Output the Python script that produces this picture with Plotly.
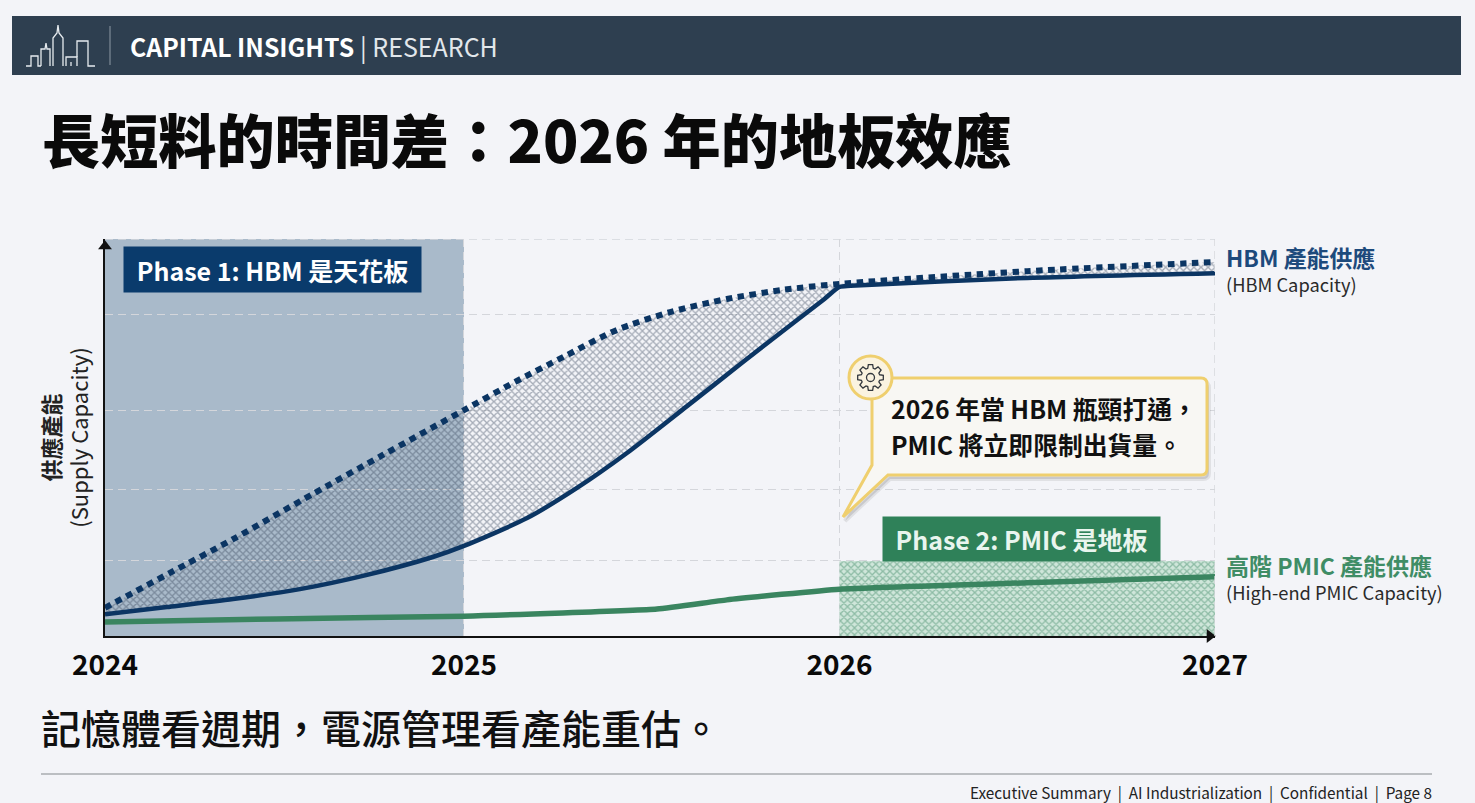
import math
import plotly.graph_objects as go

W, H = 1475, 803
CJK = "Noto Sans CJK TC"

# Plot frame on the slide, in pixels
LEFT, RIGHT, TOP, BOTTOM = 105, 1215, 239, 636

# Time axis: 2024 sits slightly closer to 2025 than the later years do
X_START = 2024.044
X_END = 2027
TICK_POS = [X_START, 2025, 2026, 2027]
TICK_LABELS = ["2024", "2025", "2026", "2027"]
GRID_Y = [18.9, 37, 56.9, 80.9, 100]

# Supply curves, index scale 0-100
HBM_X = [2024.044, 2024.209, 2024.385, 2024.563, 2024.742, 2024.917, 2025, 2025.168,
         2025.301, 2025.434, 2025.594, 2025.743, 2025.876, 2025.96, 2026, 2026.03, 2026.5, 2027]
HBM_ACTUAL = [5.5, 7.3, 9.3, 11.8, 15.4, 19.9, 22.7, 29.7,
              37.3, 46.1, 57.9, 69.0, 78.8, 84.9, 87.9, 88.2, 90.2, 91.4]
CEILING_X = [2024.044, 2024.217, 2024.385, 2024.598, 2024.784, 2025, 2025.136, 2025.269,
             2025.407, 2025.549, 2025.7, 2025.85, 2026, 2026.5, 2027]
HBM_CEILING = [7.1, 15.9, 24.4, 35.8, 45.6, 56.9, 64.0, 70.5,
               77.1, 81.6, 84.9, 87.2, 88.7, 91.9, 94.2]
PMIC_X = [2024.044, 2024.5, 2025, 2025.514, 2025.7, 2026, 2026.5, 2027]
PMIC_CAPACITY = [3.5, 4.3, 5.0, 6.8, 9.1, 11.8, 13.4, 14.9]

PHASE1_SPAN = [X_START, 2025]
PHASE2_SPAN = [2026, 2027]
PHASE2_TOP = 18.9

NAVY = "#0B3563"
GREEN = "#3A8560"
BG = "#F3F4F8"
GOLD = "#EFCF6E"
GRID = "#D4D6DB"
GRID_DASH = "8px,5px"


def fx(x):
    return x / W


def fy(y):
    return 1 - y / H


def pts_path(points, close=False):
    d = "M" + " L".join(f"{fx(x):.5f},{fy(y):.5f}" for x, y in points)
    return d + (" Z" if close else "")


def callout_path(dx=0, dy=0):
    # Speech bubble with rounded corners and a tail pointing down-left
    l, r, t, b, c = 872 + dx, 1207 + dx, 378 + dy, 475 + dy, 6
    seq = [
        ("M", l + c, t), ("L", r - c, t), ("Q", r, t, r, t + c), ("L", r, b - c),
        ("Q", r, b, r - c, b), ("L", 888 + dx, b), ("L", 843 + dx, 517 + dy),
        ("L", l, 465 + dy), ("L", l, t + c), ("Q", l, t, l + c, t),
    ]
    parts = []
    for s in seq:
        coords = s[1:]
        xy = [f"{fx(coords[i]):.5f},{fy(coords[i + 1]):.5f}" for i in range(0, len(coords), 2)]
        parts.append(s[0] + " ".join(xy))
    return " ".join(parts) + " Z"


def gear_path(cx, cy, r_out, r_in, teeth=8):
    points = []
    step = 2 * math.pi / teeth
    for k in range(teeth):
        a = k * step
        for offset, r in [(-0.30, r_in), (-0.17, r_out), (0.17, r_out), (0.30, r_in)]:
            ang = a + offset * step * 1.25
            points.append((cx + r * math.cos(ang), cy + r * math.sin(ang)))
    return pts_path(points, close=True)


def page_rect(x0, y0, x1, y1, fill, line=None, width=0):
    return dict(type="rect", xref="paper", yref="paper", x0=fx(x0), x1=fx(x1), y0=fy(y1), y1=fy(y0),
                fillcolor=fill, line=dict(color=line or fill, width=width), layer="below")


def label(text, x, y, size, color="#111111", weight=400, xanchor="left", **kw):
    return dict(text=text, x=fx(x), y=fy(y), xref="paper", yref="paper", xanchor=xanchor, yanchor="middle",
                showarrow=False, font=dict(family=CJK, size=size, color=color, weight=weight), **kw)


def series_label(head, sub, head_color, x, y):
    # Two-line end label: coloured bold name over a plain English gloss
    text = (f'<span style="font-size:{head[1]}px;color:{head_color}"><b>{head[0]}</b></span><br>'
            f'<span style="font-size:18.3px;color:#2A2A2A">{sub}</span>')
    return label(text, x, y, 19.5, "#2A2A2A", 400, align="left")


fig = go.Figure()

# Hatched gap between actual HBM output and its ceiling
fig.add_trace(go.Scatter(x=HBM_X, y=HBM_ACTUAL, mode="lines", line=dict(color=NAVY, width=4.5, shape="spline", smoothing=0.7)))
fig.add_trace(go.Scatter(
    x=CEILING_X, y=HBM_CEILING, mode="lines", fill="tonexty", fillcolor="rgba(0,0,0,0)",
    fillpattern=dict(shape="x", size=5, solidity=0.46, fgcolor="rgba(58,72,94,0.85)", bgcolor="rgba(0,0,0,0)"),
    line=dict(color=NAVY, width=6, dash="6.5px,5.5px", shape="spline", smoothing=0.7),
))

# Phase 2 hatched floor band
fig.add_trace(go.Scatter(
    x=[PHASE2_SPAN[0], PHASE2_SPAN[1], PHASE2_SPAN[1], PHASE2_SPAN[0], PHASE2_SPAN[0]],
    y=[0, 0, PHASE2_TOP, PHASE2_TOP, 0], mode="lines", fill="toself", fillcolor="rgba(0,0,0,0)",
    fillpattern=dict(shape="x", size=5, solidity=0.45, fgcolor="rgba(60,135,98,0.9)", bgcolor="#CFE6DA"),
    line=dict(width=0, color="rgba(0,0,0,0)"),
))
fig.add_trace(go.Scatter(x=PMIC_X, y=PMIC_CAPACITY, mode="lines", line=dict(color=GREEN, width=5.5, shape="spline", smoothing=0.4)))

# Arrow heads closing both axes
fig.add_trace(go.Scatter(x=[X_START], y=[98.2], mode="markers", cliponaxis=False,
                         marker=dict(symbol="triangle-up", size=12, color="#111111")))
fig.add_trace(go.Scatter(x=[X_END - 0.014], y=[0], mode="markers", cliponaxis=False,
                         marker=dict(symbol="triangle-right", size=12, color="#111111")))

shapes = [
    # Phase 1 shaded span
    dict(type="rect", xref="x", yref="y", x0=PHASE1_SPAN[0], x1=PHASE1_SPAN[1], y0=0, y1=100,
         fillcolor="#A9BACA", line=dict(width=0), layer="below"),
    # Dashed frame along the top and right edges of the plot
    dict(type="line", xref="x", yref="y", x0=X_START, x1=X_END, y0=100, y1=100,
         line=dict(color=GRID, width=1.4, dash=GRID_DASH)),
    dict(type="line", xref="x", yref="y", x0=X_END, x1=X_END, y0=0, y1=100,
         line=dict(color=GRID, width=1.4, dash=GRID_DASH)),
    # Header band and its divider
    page_rect(12, 16, 1461, 75, "#2E3F50"),
    dict(type="line", xref="paper", yref="paper", x0=fx(110), x1=fx(110), y0=fy(26), y1=fy(65),
         line=dict(color="#7F8B97", width=1.2)),
    # Footer rule
    dict(type="line", xref="paper", yref="paper", x0=fx(41), x1=fx(1432), y0=fy(774), y1=fy(774),
         line=dict(color="#A9ACB1", width=1.6)),
    # Callout: soft shadow, bubble, gear badge
    dict(type="path", xref="paper", yref="paper", path=callout_path(2, 4), fillcolor="rgba(60,60,60,0.14)",
         line=dict(color="rgba(60,60,60,0.10)", width=4)),
    dict(type="path", xref="paper", yref="paper", path=callout_path(), fillcolor="#F8F7F3",
         line=dict(color=GOLD, width=3)),
    dict(type="circle", xref="paper", yref="paper", x0=fx(849), x1=fx(892), y0=fy(399), y1=fy(356),
         fillcolor="#FAF3E0", line=dict(color=GOLD, width=3)),
    dict(type="path", xref="paper", yref="paper", path=gear_path(870.5, 377.5, 13, 9.5), fillcolor="rgba(0,0,0,0)",
         line=dict(color="#33383E", width=1.3)),
    dict(type="circle", xref="paper", yref="paper", x0=fx(866.5), x1=fx(874.5), y0=fy(381.5), y1=fy(373.5),
         fillcolor="rgba(0,0,0,0)", line=dict(color="#33383E", width=1.3)),
]

# Skyline logo in the header
SKYLINE = [
    [(26, 66), (31, 66), (31, 56), (38, 56), (38, 66), (41, 66)],
    [(41, 66), (41, 49), (45, 49), (46, 43), (47, 49), (50, 49), (50, 66)],
    [(53, 66), (53, 38), (57, 33), (58, 25), (59, 33), (63, 38), (63, 66)],
    [(66, 66), (66, 57), (77, 57), (77, 66)],
    [(71, 66), (71, 62)],
    [(77, 57), (77, 41), (88, 41), (88, 66), (95, 66)],
]
for run in SKYLINE:
    shapes.append(dict(type="path", xref="paper", yref="paper", path=pts_path(run),
                       line=dict(color="#E6EBEF", width=1.3)))

annotations = [
    label("CAPITAL INSIGHTS", 128, 46, 24.8, "#FFFFFF", 700),
    label("| RESEARCH", 358, 46, 25, "#E2E7EB", 400),
    label("長短料的時間差：2026 年的地板效應", 40, 137, 58.2, "#0A0A0A", 900),
    label("記憶體看週期，電源管理看產能重估。", 39, 727, 40, "#111111", 500),
    label("Executive Summary  |  AI Industrialization  |  Confidential  |  Page 8", 1434, 792.5, 15.3, "#222222", 400,
          xanchor="right"),
    label("Phase 1: HBM 是天花板", 272.5, 269.5, 25, "#FFFFFF", 700, xanchor="center",
          bgcolor="#0A3B6C", width=295, height=43),
    label("Phase 2: PMIC 是地板", 1021.5, 539, 25, "#E9F5EE", 700, xanchor="center",
          bgcolor="#2F8159", width=275, height=42),
    label("2026 年當 HBM 瓶頸打通，", 889, 408, 24.8, "#111111", 700),
    label("PMIC 將立即限制出貨量。", 889, 444, 24.8, "#111111", 700),
    series_label(("HBM 產能供應", 22.9), "(HBM Capacity)", "#1D4A7C", 1224, 268),
    series_label(("高階 PMIC 產能供應", 23), "(High-end PMIC Capacity)", "#3F8D66", 1224, 576),
]

fig.update_layout(
    width=W, height=H, autosize=False,
    margin=dict(l=0, r=0, t=0, b=0, autoexpand=False),
    paper_bgcolor=BG, plot_bgcolor=BG,
    showlegend=False, hovermode=False,
    font=dict(family=CJK),
    shapes=shapes, annotations=annotations,
    xaxis=dict(
        domain=[fx(LEFT), fx(RIGHT)], range=[X_START, X_END], automargin=False,
        tickmode="array", tickvals=TICK_POS, ticktext=TICK_LABELS,
        tickfont=dict(family=CJK, size=28, color="#0A0A0A", weight=700),
        ticks="outside", ticklen=3, tickcolor="rgba(0,0,0,0)",
        showline=True, linecolor="#111111", linewidth=2,
        showgrid=True, gridcolor=GRID, griddash=GRID_DASH, gridwidth=1.4,
        zeroline=False, fixedrange=True,
    ),
    yaxis=dict(
        domain=[fy(BOTTOM), fy(TOP)], range=[0, 100], automargin=False,
        tickmode="array", tickvals=GRID_Y, showticklabels=False, ticks="",
        showline=True, linecolor="#111111", linewidth=2,
        showgrid=True, gridcolor=GRID, griddash=GRID_DASH, gridwidth=1.4,
        zeroline=False, fixedrange=True,
        title=dict(text="<b>供應產能</b><br>(Supply Capacity)", font=dict(family=CJK, size=22, color="#222222"), standoff=8),
    ),
)

fig.write_html("out.html", config=dict(displayModeBar=False))
